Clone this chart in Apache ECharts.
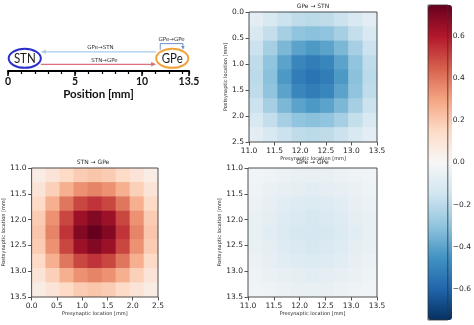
<!DOCTYPE html>
<html>
<head>
<meta charset="utf-8">
<script src="https://cdn.jsdelivr.net/npm/echarts@6/dist/echarts.min.js"></script>
<style>
  html, body { margin: 0; padding: 0; background: #ffffff; }
  #chart { width: 474px; height: 325px; }
</style>
</head>
<body>
<div id="chart"></div>
<script>
// ---- data -------------------------------------------------------------
// Each nucleus spans 2.5 mm and is split into 9 bins.
const binLabels = ['0', '1', '2', '3', '4', '5', '6', '7', '8'];
const stnRange = [0, 2.5];
const gpeRange = [11, 13.5];

// Schematic of the two nuclei along the position axis (mm).
const positionTicks = [0, 5, 10, 13.5];
const positionMinorTicks = [0, 1, 2, 3, 4, 5, 6, 7, 8, 9, 10, 11, 12, 13, 13.5];
const nucleusNames = ['STN', 'GPe'];
const nucleusCentres = [1.25, 12.25];
const projectionNames = ['GPe→STN', 'STN→GPe', 'GPe→GPe'];

// Shared colour scale
const colourLimit = 0.745;
const colourbarTicks = [-0.6, -0.4, -0.2, 0, 0.2, 0.4, 0.6];

// Connection weights: rows = postsynaptic bin (top to bottom), cols = presynaptic bin.
const gpeToStn = [
  [-0.08, -0.12, -0.16, -0.19, -0.20, -0.19, -0.16, -0.12, -0.08],
  [-0.12, -0.18, -0.25, -0.30, -0.31, -0.30, -0.25, -0.18, -0.12],
  [-0.16, -0.25, -0.34, -0.40, -0.43, -0.40, -0.34, -0.25, -0.16],
  [-0.19, -0.30, -0.40, -0.49, -0.52, -0.49, -0.40, -0.30, -0.19],
  [-0.20, -0.31, -0.43, -0.52, -0.55, -0.52, -0.43, -0.31, -0.20],
  [-0.19, -0.30, -0.40, -0.49, -0.52, -0.49, -0.40, -0.30, -0.19],
  [-0.16, -0.25, -0.34, -0.40, -0.43, -0.40, -0.34, -0.25, -0.16],
  [-0.12, -0.18, -0.25, -0.30, -0.31, -0.30, -0.25, -0.18, -0.12],
  [-0.08, -0.12, -0.16, -0.19, -0.20, -0.19, -0.16, -0.12, -0.08]
];
const stnToGpe = [
  [0.06, 0.10, 0.15, 0.19, 0.21, 0.19, 0.15, 0.10, 0.06],
  [0.10, 0.18, 0.27, 0.34, 0.37, 0.34, 0.27, 0.18, 0.10],
  [0.15, 0.27, 0.40, 0.50, 0.54, 0.50, 0.40, 0.27, 0.15],
  [0.19, 0.34, 0.50, 0.64, 0.69, 0.64, 0.50, 0.34, 0.19],
  [0.21, 0.37, 0.54, 0.69, 0.745, 0.69, 0.54, 0.37, 0.21],
  [0.19, 0.34, 0.50, 0.64, 0.69, 0.64, 0.50, 0.34, 0.19],
  [0.15, 0.27, 0.40, 0.50, 0.54, 0.50, 0.40, 0.27, 0.15],
  [0.10, 0.18, 0.27, 0.34, 0.37, 0.34, 0.27, 0.18, 0.10],
  [0.06, 0.10, 0.15, 0.19, 0.21, 0.19, 0.15, 0.10, 0.06]
];
const gpeToGpe = [
  [-0.026, -0.036, -0.047, -0.055, -0.059, -0.055, -0.047, -0.036, -0.026],
  [-0.036, -0.050, -0.064, -0.076, -0.081, -0.076, -0.064, -0.050, -0.036],
  [-0.047, -0.064, -0.083, -0.098, -0.104, -0.098, -0.083, -0.064, -0.047],
  [-0.055, -0.076, -0.098, -0.115, -0.122, -0.115, -0.098, -0.076, -0.055],
  [-0.059, -0.081, -0.104, -0.122, -0.130, -0.122, -0.104, -0.081, -0.059],
  [-0.055, -0.076, -0.098, -0.115, -0.122, -0.115, -0.098, -0.076, -0.055],
  [-0.047, -0.064, -0.083, -0.098, -0.104, -0.098, -0.083, -0.064, -0.047],
  [-0.036, -0.050, -0.064, -0.076, -0.081, -0.076, -0.064, -0.050, -0.036],
  [-0.026, -0.036, -0.047, -0.055, -0.059, -0.055, -0.047, -0.036, -0.026]
];

// ---- styling ----------------------------------------------------------
const rdBuR = ['#053061', '#2166ac', '#4393c3', '#92c5de', '#d1e5f0', '#f7f7f7',
               '#fddbc7', '#f4a582', '#d6604d', '#b2182b', '#67001f'];
const plotFont = 'DejaVu Sans';
const sketchFont = 'Lato';
const ink = '#262626';

const panels = [
  { title: 'GPe → STN', values: gpeToStn, xRange: gpeRange, yRange: stnRange,
    rect: { left: 249, top: 12, width: 128, height: 130 } },
  { title: 'STN → GPe', values: stnToGpe, xRange: stnRange, yRange: gpeRange,
    rect: { left: 28, top: 168, width: 130, height: 129 } },
  { title: 'GPe → GPe', values: gpeToGpe, xRange: gpeRange, yRange: gpeRange,
    rect: { left: 248, top: 168, width: 129, height: 129 } }
];

const oneDecimal = v => v.toFixed(1);
const minusFmt = v => (Math.abs(v) < 1e-9 ? '0.0' : v.toFixed(1).replace('-', '\u2212'));

const grids = [];
const xAxes = [];
const yAxes = [];
const series = [];
const graphics = [];

// grid 0: position schematic (major ticks + labels)
grids.push({ left: 8, top: 30, width: 181, height: 41, show: false });
xAxes.push({
  gridIndex: 0, type: 'value', min: 0, max: 13.5, position: 'bottom',
  axisLine: { show: true, lineStyle: { color: '#000', width: 2 } },
  axisTick: { show: true, customValues: positionTicks, length: 5, lineStyle: { color: '#000', width: 1.5 } },
  axisLabel: { show: true, customValues: positionTicks, margin: 5, fontSize: 10.5, fontWeight: 'bold',
               fontFamily: sketchFont, color: '#111', formatter: v => String(v) },
  splitLine: { show: false },
  name: 'Position [mm]', nameLocation: 'middle', nameGap: 17,
  nameTextStyle: { fontSize: 11.5, fontWeight: 'bold', fontFamily: sketchFont, color: '#111' }
});
yAxes.push({ gridIndex: 0, type: 'value', min: 0, max: 1, show: false });

// panels: grids 1..3, each with hidden category axes (cells) and value axes (ticks)
panels.forEach((p, i) => {
  const g = i + 1;
  grids.push(Object.assign({ show: true, borderColor: ink, borderWidth: 0.8, backgroundColor: 'transparent', z: 3 }, p.rect));
  const catX = xAxes.length;
  xAxes.push({ gridIndex: g, type: 'category', data: binLabels, show: false, position: 'bottom' });
  xAxes.push({
    gridIndex: g, type: 'value', min: p.xRange[0], max: p.xRange[1], interval: 0.5, position: 'bottom',
    axisLine: { show: false },
    axisTick: { show: true, length: 3.5, lineStyle: { color: ink, width: 0.8 } },
    axisLabel: { show: true, margin: 5, fontSize: 7.5, fontFamily: plotFont, color: ink, formatter: oneDecimal },
    splitLine: { show: false },
    name: 'Presynaptic location [mm]', nameLocation: 'middle', nameGap: 11,
    nameTextStyle: { fontSize: 5, fontFamily: plotFont, color: ink }
  });
  const catY = yAxes.length;
  yAxes.push({ gridIndex: g, type: 'category', data: binLabels, show: false, inverse: true, position: 'left' });
  yAxes.push({
    gridIndex: g, type: 'value', min: p.yRange[0], max: p.yRange[1], interval: 0.5, inverse: true, position: 'left',
    axisLine: { show: false },
    axisTick: { show: true, length: 3.5, lineStyle: { color: ink, width: 0.8 } },
    axisLabel: { show: true, margin: 5, fontSize: 7.5, fontFamily: plotFont, color: ink, formatter: oneDecimal },
    splitLine: { show: false },
    name: 'Postsynaptic location [mm]', nameLocation: 'middle', nameGap: 19, nameRotate: 90,
    nameTextStyle: { fontSize: 5, fontFamily: plotFont, color: ink }
  });
  const cells = [];
  p.values.forEach((row, r) => row.forEach((v, c) => cells.push([c, r, v])));
  series.push({
    type: 'heatmap', name: p.title, xAxisIndex: catX, yAxisIndex: catY, data: cells,
    itemStyle: { borderWidth: 0 }, emphasis: { disabled: true }, progressive: 0, silent: true
  });
  graphics.push({
    type: 'text', x: p.rect.left + p.rect.width / 2, y: p.rect.top - 3,
    style: { text: p.title, align: 'center', verticalAlign: 'bottom', fontSize: 6, fontFamily: plotFont, fill: ink }
  });
});

// grid 4: colour bar axis
grids.push({ left: 428, top: 5, width: 24, height: 315, show: true, borderColor: '#333', borderWidth: 0.8,
             backgroundColor: 'transparent', z: 6 });
xAxes.push({ gridIndex: 4, type: 'value', min: 0, max: 1, show: false });
yAxes.push({
  gridIndex: 4, type: 'value', min: -colourLimit, max: colourLimit, position: 'right',
  axisLine: { show: false },
  axisTick: { show: true, customValues: colourbarTicks, length: 3.5, lineStyle: { color: ink, width: 0.8 } },
  axisLabel: { show: true, customValues: colourbarTicks, margin: 5, fontSize: 7.5, fontFamily: plotFont,
               color: ink, formatter: minusFmt },
  splitLine: { show: false }
});

// grid 5: minor millimetre ticks under the schematic
grids.push({ left: 8, top: 30, width: 181, height: 41, show: false });
xAxes.push({
  gridIndex: 5, type: 'value', min: 0, max: 13.5, position: 'bottom',
  axisLine: { show: false },
  axisTick: { show: true, customValues: positionMinorTicks, length: 3, lineStyle: { color: '#000', width: 1.2 } },
  axisLabel: { show: false }, splitLine: { show: false }
});
yAxes.push({ gridIndex: 5, type: 'value', min: 0, max: 1, show: false });

// schematic of the nuclei and their projections
const nucleusHalfWidth = 1.2;
function arrow(x1, x2, y, colour) {
  const dir = x2 > x1 ? 1 : -1;
  return [
    { type: 'line', shape: { x1: x1, y1: y, x2: x2 - dir * 4, y2: y }, style: { stroke: colour, lineWidth: 1.3 } },
    { type: 'polygon', shape: { points: [[x2, y], [x2 - dir * 5, y - 2.2], [x2 - dir * 5, y + 2.2]] },
      style: { fill: colour } }
  ];
}
function drawSchematic(params, api) {
  const axisY = api.coord([0, 0])[1];
  const cy = axisY - 12.7;
  const halfW = api.size([nucleusHalfWidth, 0])[0];
  const stnX = api.coord([nucleusCentres[0], 0])[0];
  const gpeX = api.coord([nucleusCentres[1], 0])[0];
  const small = { fontSize: 5.5, fontFamily: plotFont, fill: '#333', align: 'center', verticalAlign: 'middle' };
  const children = [];
  // GPe -> STN (top arrow)
  children.push(...arrow(gpeX - halfW, stnX + halfW, cy - 6.5, '#a9cbe8'));
  children.push({ type: 'text', x: (stnX + gpeX) / 2 + 2, y: cy - 10.5,
                  style: Object.assign({ text: projectionNames[0] }, small) });
  // STN -> GPe (bottom arrow)
  children.push(...arrow(stnX + halfW, gpeX - halfW, cy + 6, '#d8707e'));
  children.push({ type: 'text', x: (stnX + gpeX) / 2 + 6, y: cy + 2.5,
                  style: Object.assign({ text: projectionNames[1] }, small) });
  // GPe -> GPe loop
  const loopL = gpeX - 12, loopR = gpeX + 10.7, loopTop = cy - 14.7;
  children.push({ type: 'polyline', shape: { points: [[loopL, cy - 8.5], [loopL, loopTop], [loopR, loopTop], [loopR, cy - 12]] },
                  style: { stroke: '#6b93cc', lineWidth: 1, fill: null } });
  children.push({ type: 'polygon', shape: { points: [[loopR, cy - 8.5], [loopR - 1.8, cy - 12.2], [loopR + 1.8, cy - 12.2]] },
                  style: { fill: '#6b93cc' } });
  children.push({ type: 'text', x: (loopL + loopR) / 2, y: loopTop - 4,
                  style: Object.assign({ text: projectionNames[2] }, small) });
  // nuclei
  const strokes = ['#2a2ecb', '#f2a23a'];
  [stnX, gpeX].forEach((x, k) => {
    children.push({ type: 'ellipse', shape: { cx: x, cy: cy, rx: halfW, ry: 9.5 },
                    style: { fill: '#ffffff', stroke: strokes[k], lineWidth: 2 } });
    children.push({ type: 'text', x: x, y: cy + 0.5, scaleX: 0.85,
                    style: { text: nucleusNames[k], align: 'center', verticalAlign: 'middle',
                             fontSize: 13.5, fontFamily: sketchFont, fontWeight: 'normal', fill: '#1a1a1a' } });
  });
  return { type: 'group', children: children };
}
series.unshift({
  type: 'custom', xAxisIndex: 0, yAxisIndex: 0, data: [[0, 0]], renderItem: drawSchematic,
  silent: true, clip: false, z: 5
});

const chart = echarts.init(document.getElementById('chart'), null, { renderer: 'canvas' });
chart.setOption({
  animation: false,
  backgroundColor: '#ffffff',
  grid: grids,
  xAxis: xAxes,
  yAxis: yAxes,
  visualMap: {
    type: 'continuous', min: -colourLimit, max: colourLimit, seriesIndex: [1, 2, 3],
    inRange: { color: rdBuR }, orient: 'vertical', left: 428, top: 5,
    itemWidth: 24, itemHeight: 315, padding: 0, calculable: false, hoverLink: false, realtime: false
  },
  graphic: graphics,
  series: series
});
</script>
</body>
</html>
